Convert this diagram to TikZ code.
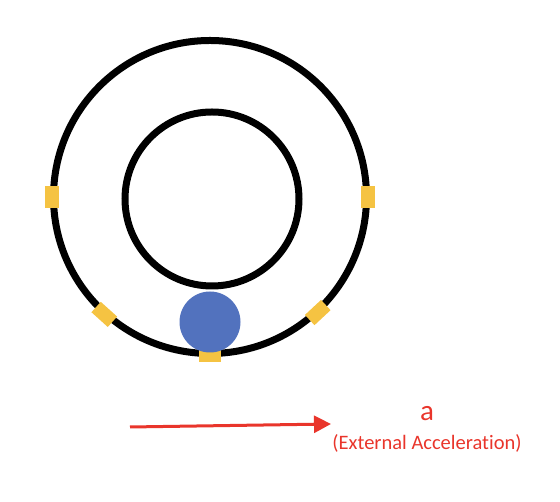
\documentclass[tikz,border=0pt]{standalone}
\usepackage{fontspec}
\setmainfont{Carlito}[Ligatures=NoCommon]
\usetikzlibrary{arrows.meta, positioning}

\definecolor{padyellow}{RGB}{245,195,66}
\definecolor{ballblue}{RGB}{82,114,190}
\definecolor{accelred}{RGB}{233,53,43}

\begin{document}
\begin{tikzpicture}[
            x = 1pt,
            y = 1pt,
            > = {Triangle[length=17pt, width=17pt]},
            semithick
        ]

        \tikzstyle{ring}=[
            draw = black,
            circle,
            line width = 7pt,
            inner sep = 0pt
        ]
        \tikzstyle{pad}=[
            fill = padyellow,
            rectangle,
            minimum width = 14pt,
            minimum height = 22pt,
            inner sep = 0pt
        ]
        \tikzstyle{ball}=[
            fill = ballblue,
            circle,
            minimum size = 61pt,
            inner sep = 0pt
        ]
        \tikzstyle{accel}=[
            text = accelred,
            inner sep = 0pt
        ]

        \useasboundingbox (0,0) rectangle (560,502);

        \node[ring, minimum size=313pt] (outer) at (210,305) {};
        \node[ring, minimum size=174pt] (inner) at (212,303) {};

        % sliders on the outer ring
        \foreach \ang in {0,180,228,270,313}
            \node[pad, rotate=\ang] (pad\ang) at ([shift={(\ang:158)}]outer.center) {};

        \node[ball] (ball) at (210,180) {};

        \node[accel, font=\fontsize{29}{31}\selectfont] (a) at (427,88) {a};
        \node[accel, font=\fontsize{20.5}{22}\selectfont] (ext) at (427,59) {(External Acceleration)};

        \coordinate (tail) at (130,75);
        \coordinate (head) at (331,78);
        \draw[->, draw=accelred, line width=3pt] (tail) -- (head);

    \end{tikzpicture}
\end{document}
